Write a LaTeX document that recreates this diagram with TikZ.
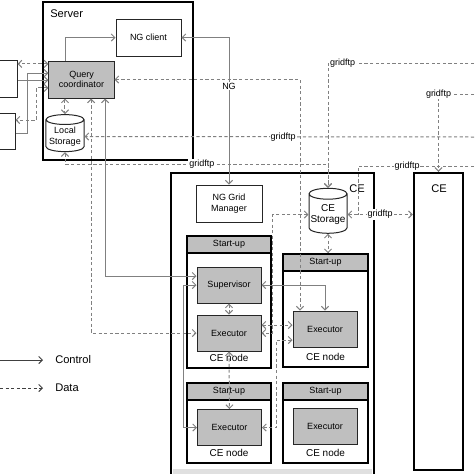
\documentclass[tikz,border=0pt]{standalone}
\usepackage{fontspec}
\setmainfont{Liberation Sans}
\usetikzlibrary{arrows.meta,positioning,shapes.geometric}
\newcommand{\sm}{\fontsize{6.4}{7.4}\selectfont}
\newcommand{\cn}{\fontsize{7.1}{8}\selectfont}
\newcommand{\md}{\fontsize{7.9}{9}\selectfont}

\begin{document}
\begin{tikzpicture}[
  x=0.25mm,y=-0.25mm,>={Straight Barb[length=0.9mm,width=1.8mm]},
  box/.style={draw=black!85,line width=0.25mm,fill=white,align=center,font=\sm,
    minimum width=16.25mm,minimum height=9.25mm,inner sep=1pt},
  greybox/.style={box,fill=black!25,minimum width=16mm,minimum height=9mm},
  store/.style={box,cylinder,shape border rotate=90,aspect=0.3,
    minimum width=9.5mm,minimum height=9.25mm,inner sep=0.5pt},
  frame/.style={draw,line width=0.55mm,inner sep=0pt},
  cenode/.style={draw,line width=0.4mm,inner sep=0pt,minimum width=21mm},
  startup/.style={draw,line width=0.4mm,fill=black!25,font=\sm,
    minimum height=4.25mm,inner sep=0pt,anchor=north},
  ctrl/.style={draw=black!50,line width=0.25mm},
  data/.style={ctrl,dash pattern=on 0.8mm off 0.6mm},
  lbl/.style={fill=white,font=\sm,inner sep=0.6pt}
]
\useasboundingbox (0,0) rectangle (474,474);
\clip (0,0) rectangle (474,474);
% server side
\node[frame,minimum width=37.5mm,minimum height=39.5mm] (server) at (118,81) {};
\node[font=\md,anchor=west,inner sep=0pt] (srvname) at (50,14) {Server};
\node[box] (ngclient) at (148.5,37.5) {NG client};
\node[box,fill=black!25] (query) at (81.5,79.5) {Query\\coordinator};
\node[store] (localstore) at (65,136.5) {Local\\Storage};
\node[box,minimum width=6.75mm] (client1) at (3.5,78.5) {};
\node[box,minimum width=6.25mm,minimum height=9mm] (client2) at (2.5,131) {};
% CE side
\fill[black!12] (173,469) rectangle (372,474);
\node[frame,minimum width=50.75mm,minimum height=79.25mm] (ce) at (272.5,331.5) {};
\node[font=\md,inner sep=0pt] (cename) at (357,189) {CE};
\node[frame,minimum width=12.25mm,minimum height=74.25mm] (ceright) at (438.5,321.5) {};
\node[font=\md,inner sep=0pt] (cerightname) at (439,189) {CE};
\node[box,minimum width=16.5mm] (ngmanager) at (229,203.5) {NG Grid\\Manager};
\node[store,font=\cn,minimum height=11.25mm] (cestorage) at (328,214.5) {CE\\Storage};
% CE nodes
\node[cenode,minimum height=33mm] (node1) at (229,302) {};
\node[startup,minimum width=21mm] (start1) at (node1.north) {Start-up};
\node[greybox] (supervisor) at (229,285) {Supervisor};
\node[greybox] (exec1) at (229,333) {Executor};
\node[font=\cn,above=0.5mm of node1.south] (name1) {CE node};
\node[cenode,minimum width=21.25mm,minimum height=28.25mm] (node2) at (325.5,310.5) {};
\node[startup,minimum width=21.25mm] (start2) at (node2.north) {Start-up};
\node[greybox] (exec2) at (325,329) {Executor};
\node[font=\cn,above=0.5mm of node2.south] (name2) {CE node};
\node[cenode,minimum height=20mm] (node3) at (229,423) {};
\node[startup,minimum width=21mm] (start3) at (node3.north) {Start-up};
\node[greybox] (exec3) at (229.5,427.5) {Executor};
\node[font=\cn,above=0.5mm of node3.south] (name3) {CE node};
\node[cenode,minimum width=21.25mm,minimum height=20mm] (node4) at (325.5,423) {};
\node[startup,minimum width=21.25mm] (start4) at (node4.north) {Start-up};
\node[greybox] (exec4) at (325,426.5) {Executor};
\node[font=\cn,above=0.5mm of node4.south] (name4) {CE node};
% legend
\coordinate (ctrlstart) at (0,360);
\coordinate (datastart) at (0,388);
\node[font=\md,anchor=west,inner sep=0pt] (ctrltxt) at (55,360) {Control};
\node[font=\md,anchor=west,inner sep=0pt] (datatxt) at (55,388) {Data};
\draw[ctrl,draw=black!75,->] (ctrlstart) -- ([xshift=-3mm]ctrltxt.west);
\draw[data,draw=black!75,->] (datastart) -- ([xshift=-3mm]datatxt.west);
% control lines
\draw[ctrl,->] (localstore |- query.north) |- (ngclient.west);
\draw[ctrl,<->] (ngclient.east) -| node[lbl,pos=0.665]{NG} (ngmanager.north);
\draw[ctrl,->] ([yshift=-0.4mm]client1.east) -- ([yshift=-0.4mm]client1.east -| query.west);
\draw[ctrl,->] ([yshift=-0.5mm]client2.east) -- ++(3mm,0) |- ([yshift=1.6mm]query.west);
\draw[ctrl,<->] ([xshift=5.9mm]query.south) |- ([yshift=2.25mm]supervisor.west);
\draw[ctrl,<->] (supervisor.east) -| (exec2.north);
\draw[ctrl,<->] (supervisor.west) -- ++(-3.25mm,0) |- (exec3.west);
% data lines
\draw[data,<->] ([yshift=3.9mm]query.west) -- ([yshift=3.9mm]query.west -| client1.east);
\draw[data,<->] ([yshift=-2.1mm]query.west) -- ++(-3mm,0) |- ([yshift=2.75mm]client2.east);
\draw[data,<->] (query.south -| localstore.north) -- (localstore.north);
\draw[data,<->] ([xshift=2.4mm]query.south) |- (exec1.west);
\draw[data,<->] (query.east) -| ([xshift=-6.25mm]exec2.north);
\draw[data,<->] (supervisor.south) -- (exec1.north);
\draw[data,<->] (exec1.south) -- (exec3.north);
\draw[data,<->] ([yshift=2mm]exec1.east) -- ([yshift=2mm]exec1.east -| exec2.west);
\draw[data,<->] ([yshift=-2.75mm]exec2.west) -- ++(-4mm,0) |- (exec3.east);
\draw[data,<->] (cestorage.west) -- ++(-9mm,0) |- (exec1.east);
\draw[data,<->] (cestorage.south) -- (cestorage.south |- start2.north);
% gridftp lines
\coordinate (gridA) at (474,137);
\coordinate (gridB) at (474,63);
\coordinate (gridC) at (474,94);
\coordinate (gridD) at (474,166);
\draw[data,->] (gridA) -- node[lbl,pos=0.49]{gridftp} (localstore.east);
\draw[data,<->] (localstore.south) -- ++(0,-3mm) -| node[lbl,pos=0.26]{gridftp} (cestorage.north);
\draw[data,->] (gridB) -| node[lbl,pos=0.45]{gridftp} (cestorage.north);
\draw[data,->] (gridC) -| node[lbl,pos=0.5]{gridftp} (ceright.north);
\draw[data,<->] (cestorage.east) -- node[lbl]{gridftp} (cestorage.east -| ceright.west);
\draw[data] (gridD) -| node[lbl,pos=0.29]{gridftp} ([xshift=2.75mm]cestorage.east);
\end{tikzpicture}
\end{document}
